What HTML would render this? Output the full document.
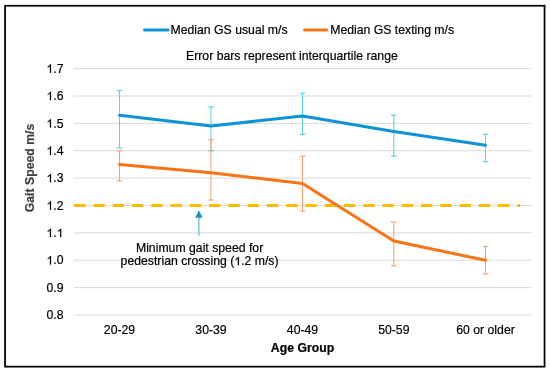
<!DOCTYPE html>
<html><head><meta charset="utf-8"><style>
html,body{margin:0;padding:0;background:#fff;width:550px;height:371px;overflow:hidden}
svg{display:block;will-change:transform}
text{font-family:"Liberation Sans", sans-serif;font-size:12.25px;fill:#000;stroke:#000;stroke-width:0.2px}
.o{fill-opacity:0;stroke-opacity:0}
</style></head><body>
<svg width="550" height="371" viewBox="0 0 550 371">
<line x1="73.5" x2="531.5" y1="68.60" y2="68.60" stroke="#d9d9d9" stroke-width="1"/>
<line x1="73.5" x2="531.5" y1="95.98" y2="95.98" stroke="#d9d9d9" stroke-width="1"/>
<line x1="73.5" x2="531.5" y1="123.36" y2="123.36" stroke="#d9d9d9" stroke-width="1"/>
<line x1="73.5" x2="531.5" y1="150.74" y2="150.74" stroke="#d9d9d9" stroke-width="1"/>
<line x1="73.5" x2="531.5" y1="178.12" y2="178.12" stroke="#d9d9d9" stroke-width="1"/>
<line x1="73.5" x2="531.5" y1="205.50" y2="205.50" stroke="#d9d9d9" stroke-width="1"/>
<line x1="73.5" x2="531.5" y1="232.88" y2="232.88" stroke="#d9d9d9" stroke-width="1"/>
<line x1="73.5" x2="531.5" y1="260.26" y2="260.26" stroke="#d9d9d9" stroke-width="1"/>
<line x1="73.5" x2="531.5" y1="287.64" y2="287.64" stroke="#d9d9d9" stroke-width="1"/>
<line x1="73.5" x2="531.5" y1="315.02" y2="315.02" stroke="#d9d9d9" stroke-width="1"/>
<text x="63.5" y="72.80" text-anchor="end"><tspan class="o">1</tspan>.7</text>
<text x="63.5" y="100.18" text-anchor="end"><tspan class="o">1</tspan>.6</text>
<text x="63.5" y="127.56" text-anchor="end"><tspan class="o">1</tspan>.5</text>
<text x="63.5" y="154.94" text-anchor="end"><tspan class="o">1</tspan>.4</text>
<text x="63.5" y="182.32" text-anchor="end"><tspan class="o">1</tspan>.3</text>
<text x="63.5" y="209.70" text-anchor="end"><tspan class="o">1</tspan>.2</text>
<text x="63.5" y="237.08" text-anchor="end"><tspan class="o">1</tspan>.<tspan class="o">1</tspan></text>
<text x="63.5" y="264.46" text-anchor="end"><tspan class="o">1</tspan>.0</text>
<text x="63.5" y="291.84" text-anchor="end">0.9</text>
<text x="63.5" y="319.22" text-anchor="end">0.8</text>
<line x1="74.2" x2="520" y1="205.50" y2="205.50" stroke="#fdbb00" stroke-width="2.8" stroke-dasharray="11.3 7.97"/>
<line x1="119.5" x2="119.5" y1="90.50" y2="148.00" stroke="#5ad8dc" stroke-width="1.1"/>
<line x1="116.75" x2="122.25" y1="148.00" y2="148.00" stroke="#5ad8dc" stroke-width="1.2"/>
<line x1="116.75" x2="122.25" y1="90.50" y2="90.50" stroke="#5ad8dc" stroke-width="1.2"/>
<line x1="211" x2="211" y1="106.93" y2="150.74" stroke="#5ad8dc" stroke-width="1.1"/>
<line x1="208.25" x2="213.75" y1="150.74" y2="150.74" stroke="#5ad8dc" stroke-width="1.2"/>
<line x1="208.25" x2="213.75" y1="106.93" y2="106.93" stroke="#5ad8dc" stroke-width="1.2"/>
<line x1="302.5" x2="302.5" y1="93.24" y2="134.31" stroke="#5ad8dc" stroke-width="1.1"/>
<line x1="299.75" x2="305.25" y1="134.31" y2="134.31" stroke="#5ad8dc" stroke-width="1.2"/>
<line x1="299.75" x2="305.25" y1="93.24" y2="93.24" stroke="#5ad8dc" stroke-width="1.2"/>
<line x1="393.8" x2="393.8" y1="115.15" y2="156.22" stroke="#5ad8dc" stroke-width="1.1"/>
<line x1="391.05" x2="396.55" y1="156.22" y2="156.22" stroke="#5ad8dc" stroke-width="1.2"/>
<line x1="391.05" x2="396.55" y1="115.15" y2="115.15" stroke="#5ad8dc" stroke-width="1.2"/>
<line x1="485.5" x2="485.5" y1="134.31" y2="161.69" stroke="#5ad8dc" stroke-width="1.1"/>
<line x1="482.75" x2="488.25" y1="161.69" y2="161.69" stroke="#5ad8dc" stroke-width="1.2"/>
<line x1="482.75" x2="488.25" y1="134.31" y2="134.31" stroke="#5ad8dc" stroke-width="1.2"/>
<line x1="119.5" x2="119.5" y1="150.74" y2="180.86" stroke="#f8a470" stroke-width="1.1"/>
<line x1="116.75" x2="122.25" y1="180.86" y2="180.86" stroke="#f8a470" stroke-width="1.2"/>
<line x1="116.75" x2="122.25" y1="150.74" y2="150.74" stroke="#f8a470" stroke-width="1.2"/>
<line x1="211" x2="211" y1="139.79" y2="200.02" stroke="#f8a470" stroke-width="1.1"/>
<line x1="208.25" x2="213.75" y1="200.02" y2="200.02" stroke="#f8a470" stroke-width="1.2"/>
<line x1="208.25" x2="213.75" y1="139.79" y2="139.79" stroke="#f8a470" stroke-width="1.2"/>
<line x1="302.5" x2="302.5" y1="156.22" y2="210.98" stroke="#f8a470" stroke-width="1.1"/>
<line x1="299.75" x2="305.25" y1="210.98" y2="210.98" stroke="#f8a470" stroke-width="1.2"/>
<line x1="299.75" x2="305.25" y1="156.22" y2="156.22" stroke="#f8a470" stroke-width="1.2"/>
<line x1="393.8" x2="393.8" y1="221.93" y2="265.74" stroke="#f8a470" stroke-width="1.1"/>
<line x1="391.05" x2="396.55" y1="265.74" y2="265.74" stroke="#f8a470" stroke-width="1.2"/>
<line x1="391.05" x2="396.55" y1="221.93" y2="221.93" stroke="#f8a470" stroke-width="1.2"/>
<line x1="485.5" x2="485.5" y1="246.57" y2="273.95" stroke="#f8a470" stroke-width="1.1"/>
<line x1="482.75" x2="488.25" y1="273.95" y2="273.95" stroke="#f8a470" stroke-width="1.2"/>
<line x1="482.75" x2="488.25" y1="246.57" y2="246.57" stroke="#f8a470" stroke-width="1.2"/>
<polyline points="119.5,115.15 211,126.10 302.5,115.97 393.8,131.57 485.5,145.26" fill="none" stroke="#0d93d6" stroke-width="3" stroke-linejoin="round" stroke-linecap="round"/>
<polyline points="119.5,164.43 211,172.64 302.5,183.60 393.8,241.09 485.5,260.26" fill="none" stroke="#fa7416" stroke-width="3" stroke-linejoin="round" stroke-linecap="round"/>
<text x="119.5" y="334" text-anchor="middle">20-29</text>
<text x="211" y="334" text-anchor="middle">30-39</text>
<text x="302.5" y="334" text-anchor="middle">40-49</text>
<text x="393.8" y="334" text-anchor="middle">50-59</text>
<text x="485.5" y="334" text-anchor="middle">60 or older</text>
<text x="302.5" y="351.9" text-anchor="middle" font-weight="bold">Age Group</text>
<text transform="translate(34.4 168.0) rotate(-90)" text-anchor="middle" font-weight="bold" style="fill:#404040;stroke:#404040">Gait Speed m/s</text>
<line x1="144.5" x2="168" y1="30" y2="30" stroke="#0d93d6" stroke-width="3" stroke-linecap="round"/>
<text x="170.5" y="34.3">Median GS usual m/s</text>
<line x1="304.5" x2="326.7" y1="30" y2="30" stroke="#fa7416" stroke-width="3" stroke-linecap="round"/>
<text x="330.2" y="34.3">Median GS texting m/s</text>
<text x="186" y="59.8">Error bars represent interquartile range</text>
<line x1="198.9" x2="198.9" y1="216" y2="235.6" stroke="#38a6e0" stroke-width="1"/>
<polygon points="198.9,210.2 195.2,217.8 202.6,217.8" fill="#1a8fd6"/>
<text x="199.6" y="251.8" text-anchor="middle">Minimum gait speed for</text>
<text x="199.6" y="265.3" text-anchor="middle">pedestrian crossing (<tspan class="o">1</tspan>.2 m/s)</text>
<rect x="5.05" y="5.75" width="539.5" height="360.9" fill="none" stroke="#000" stroke-width="1.75"/>
<path transform="translate(46.453 72.800) scale(0.005981 -0.005981)" d="M763 0H583V1098Q518 1038 412 979Q306 920 222 890V1057Q373 1125 486 1221Q599 1318 646 1409H763Z" stroke="#000" stroke-width="33.44"/>
<path transform="translate(46.453 100.180) scale(0.005981 -0.005981)" d="M763 0H583V1098Q518 1038 412 979Q306 920 222 890V1057Q373 1125 486 1221Q599 1318 646 1409H763Z" stroke="#000" stroke-width="33.44"/>
<path transform="translate(46.453 127.560) scale(0.005981 -0.005981)" d="M763 0H583V1098Q518 1038 412 979Q306 920 222 890V1057Q373 1125 486 1221Q599 1318 646 1409H763Z" stroke="#000" stroke-width="33.44"/>
<path transform="translate(46.453 154.940) scale(0.005981 -0.005981)" d="M763 0H583V1098Q518 1038 412 979Q306 920 222 890V1057Q373 1125 486 1221Q599 1318 646 1409H763Z" stroke="#000" stroke-width="33.44"/>
<path transform="translate(46.453 182.320) scale(0.005981 -0.005981)" d="M763 0H583V1098Q518 1038 412 979Q306 920 222 890V1057Q373 1125 486 1221Q599 1318 646 1409H763Z" stroke="#000" stroke-width="33.44"/>
<path transform="translate(46.453 209.700) scale(0.005981 -0.005981)" d="M763 0H583V1098Q518 1038 412 979Q306 920 222 890V1057Q373 1125 486 1221Q599 1318 646 1409H763Z" stroke="#000" stroke-width="33.44"/>
<path transform="translate(46.438 237.080) scale(0.005981 -0.005981)" d="M763 0H583V1098Q518 1038 412 979Q306 920 222 890V1057Q373 1125 486 1221Q599 1318 646 1409H763Z" stroke="#000" stroke-width="33.44"/>
<path transform="translate(56.672 237.080) scale(0.005981 -0.005981)" d="M763 0H583V1098Q518 1038 412 979Q306 920 222 890V1057Q373 1125 486 1221Q599 1318 646 1409H763Z" stroke="#000" stroke-width="33.44"/>
<path transform="translate(46.453 264.460) scale(0.005981 -0.005981)" d="M763 0H583V1098Q518 1038 412 979Q306 920 222 890V1057Q373 1125 486 1221Q599 1318 646 1409H763Z" stroke="#000" stroke-width="33.44"/>
<path transform="translate(234.327 265.300) scale(0.005981 -0.005981)" d="M763 0H583V1098Q518 1038 412 979Q306 920 222 890V1057Q373 1125 486 1221Q599 1318 646 1409H763Z" stroke="#000" stroke-width="33.44"/>
</svg>
</body></html>
